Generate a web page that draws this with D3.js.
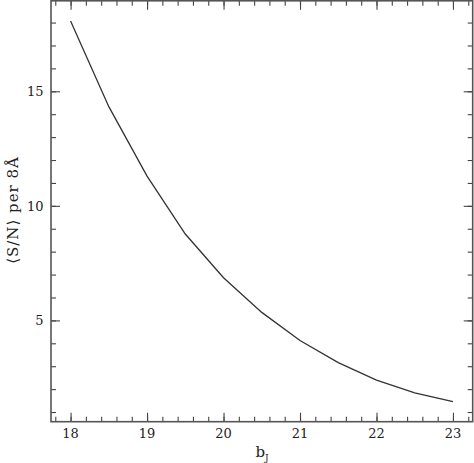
<!DOCTYPE html>
<html>
<head>
<meta charset="UTF-8">
<script src="https://cdnjs.cloudflare.com/ajax/libs/d3/7.8.5/d3.min.js"></script>
<style>
  body { margin: 0; background: #fff; }
  text { font-family: "DejaVu Serif", "Liberation Serif", serif; fill: #222; }
</style>
</head>
<body>
<div id="chart"></div>
<script>
// magnitude b_J and mean S/N per 8A
var mags = [18, 18.5, 19, 19.5, 20, 20.5, 21, 21.5, 22, 22.5, 23];
var snr = [18.07, 14.33, 11.3, 8.77, 6.86, 5.35, 4.12, 3.16, 2.39, 1.84, 1.45];
var xTicks = [18, 19, 20, 21, 22, 23];
var yTicks = [5, 10, 15];

var W = 474, H = 463;
var padL = 51, padR = 472.7, padT = 0.8, padB = 421.7;

var svg = d3.select('#chart').append('svg')
    .attr('width', W)
    .attr('height', H);

var x = d3.scaleLinear().domain([17.744, 23.258]).range([padL, padR]);
var y = d3.scaleLinear().domain([0.578, 18.95]).range([padB, padT]);

var minorX = d3.range(17.8, 23.25, 0.2).map(function (d) { return +d.toFixed(1); });
var minorY = d3.range(1, 19, 1);

// ticks on all four sides, pointing inwards
function axis(gen, scale, vals, size, tx, ty) {
    svg.append('g')
        .attr('transform', 'translate(' + tx + ',' + ty + ')')
        .call(gen(scale).tickValues(vals).tickSize(size).tickFormat(''))
        .call(function (g) {
            g.select('.domain').remove();
            g.selectAll('line').attr('stroke', '#444').attr('stroke-width', 1.1);
        });
}
axis(d3.axisTop, x, minorX, 5, 0, padB);
axis(d3.axisTop, x, xTicks, 9, 0, padB);
axis(d3.axisBottom, x, minorX, 5, 0, padT);
axis(d3.axisBottom, x, xTicks, 9, 0, padT);
axis(d3.axisRight, y, minorY, 5, padL, 0);
axis(d3.axisRight, y, yTicks, 9, padL, 0);
axis(d3.axisLeft, y, minorY, 5, padR, 0);
axis(d3.axisLeft, y, yTicks, 9, padR, 0);

// frame
svg.append('rect')
    .attr('x', padL).attr('y', padT)
    .attr('width', padR - padL).attr('height', padB - padT)
    .attr('fill', 'none')
    .attr('stroke', '#555')
    .attr('stroke-width', 1.6);

// tick labels
svg.selectAll('.xl').data(xTicks).enter().append('text')
    .attr('x', function (d) { return x(d); })
    .attr('y', 437.5)
    .attr('text-anchor', 'middle')
    .attr('font-size', 13)
    .text(function (d) { return d; });

svg.selectAll('.yl').data(yTicks).enter().append('text')
    .attr('x', 43.5)
    .attr('y', function (d) { return y(d) + 4.7; })
    .attr('text-anchor', 'end')
    .attr('font-size', 13)
    .text(function (d) { return d; });

// axis titles
var xt = svg.append('text')
    .attr('x', 262)
    .attr('y', 457)
    .attr('text-anchor', 'middle')
    .attr('font-size', 15);
xt.append('tspan').text('b');
xt.append('tspan').attr('dy', 4).attr('font-size', 9).text('J');

svg.append('text')
    .attr('transform', 'translate(18,210) rotate(-90)')
    .attr('text-anchor', 'middle')
    .attr('font-size', 15)
    .attr('letter-spacing', 1)
    .text('\u27E8S/N\u27E9 per 8\u00C5');

// curve
var line = d3.line()
    .x(function (d, i) { return x(mags[i]); })
    .y(function (d) { return y(d); });

svg.append('path')
    .datum(snr)
    .attr('d', line)
    .attr('fill', 'none')
    .attr('stroke', '#333')
    .attr('stroke-width', 1.3);
</script>
</body>
</html>
